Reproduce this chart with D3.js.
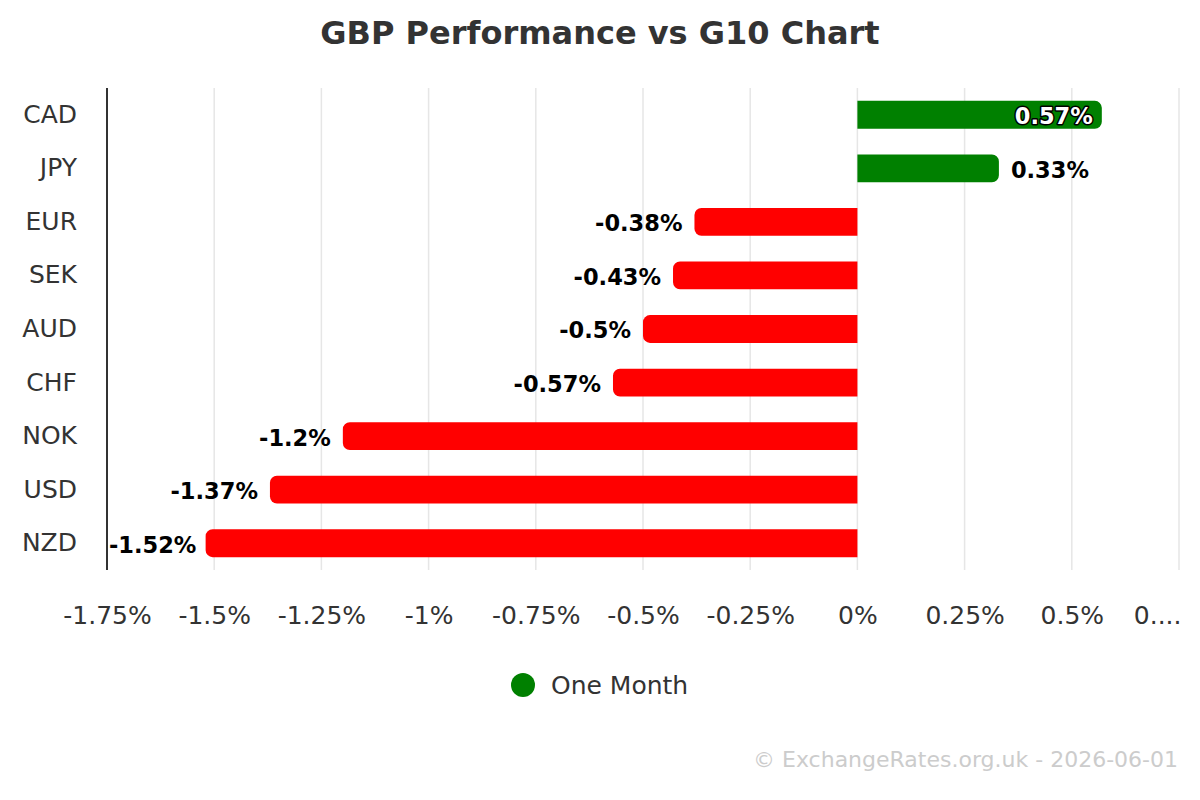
<!DOCTYPE html>
<html>
<head>
<meta charset="utf-8">
<script src="https://cdn.jsdelivr.net/npm/d3@7"></script>
<style>
  body { margin: 0; background: #fff; }
  text { font-family: "DejaVu Sans", sans-serif; }
</style>
</head>
<body>
<div id="chart"></div>
<script>
// chart data
var currencies = ["CAD", "JPY", "EUR", "SEK", "AUD", "CHF", "NOK", "USD", "NZD"];
var changes = [0.57, 0.33, -0.38, -0.43, -0.5, -0.57, -1.2, -1.37, -1.52];
var labels = ["0.57%", "0.33%", "-0.38%", "-0.43%", "-0.5%", "-0.57%", "-1.2%", "-1.37%", "-1.52%"];
var xTicks = [-1.75, -1.5, -1.25, -1, -0.75, -0.5, -0.25, 0, 0.25, 0.5, 0.75];
var xTickLabels = ["-1.75%", "-1.5%", "-1.25%", "-1%", "-0.75%", "-0.5%", "-0.25%", "0%", "0.25%", "0.5%", "0...."];

var svgWidth = 1200;
var svgHeight = 800;

var margin = { top: 88, right: 20, bottom: 230, left: 107 };
var width = svgWidth - margin.left - margin.right;
var height = svgHeight - margin.top - margin.bottom;

var svg = d3.select("#chart")
    .append("svg")
    .attr("width", svgWidth)
    .attr("height", svgHeight);

var chartGroup = svg.append("g")
    .attr("transform", `translate(${margin.left}, ${margin.top})`);

var xScale = d3.scaleLinear()
    .domain([-1.75, 0.75])
    .range([0, 1072]);

var yScale = d3.scaleBand()
    .domain(currencies)
    .range([0, height])
    .paddingInner(0.48)
    .paddingOuter(0.24);

// title
svg.append("text")
    .attr("x", svgWidth / 2)
    .attr("y", 44)
    .attr("text-anchor", "middle")
    .attr("font-size", "32px")
    .attr("font-weight", "bold")
    .attr("fill", "#333")
    .text("GBP Performance vs G10 Chart");

// grid lines
chartGroup.append("g")
    .selectAll("line")
    .data(xTicks.slice(1))
    .enter()
    .append("line")
    .attr("x1", d => xScale(d))
    .attr("x2", d => xScale(d))
    .attr("y1", 0)
    .attr("y2", height)
    .attr("stroke", "#e6e6e6")
    .attr("stroke-width", 1.5);

// x axis labels
var bottomAxis = d3.axisBottom(xScale)
    .tickValues(xTicks)
    .tickSize(0)
    .tickPadding(0)
    .tickFormat((d, i) => xTickLabels[i]);

var xAxis = chartGroup.append("g")
    .attr("transform", `translate(0, ${height + 36})`)
    .call(bottomAxis);
xAxis.select(".domain").remove();
xAxis.selectAll("text")
    .attr("font-family", "DejaVu Sans, sans-serif")
    .attr("font-size", "25px")
    .attr("fill", "#333");
// last label is clipped, keep it inside the plot edge
xAxis.selectAll("text")
    .filter(d => d === 0.75)
    .attr("text-anchor", "end")
    .attr("x", 2);

// y axis
var leftAxis = d3.axisLeft(yScale).tickSize(0).tickPadding(30);
var yAxis = chartGroup.append("g").call(leftAxis);
yAxis.select(".domain")
    .attr("stroke", "#333")
    .attr("stroke-width", 2)
    .attr("d", `M0,0V${height}`);
yAxis.selectAll("text")
    .attr("font-family", "DejaVu Sans, sans-serif")
    .attr("font-size", "25px")
    .attr("fill", "#333");

// bars with rounded outer end
var r = 7;
function barPath(v, cur) {
    var x0 = xScale(0);
    var x1 = xScale(v);
    var y0 = yScale(cur);
    var h = yScale.bandwidth();
    if (v >= 0) {
        return `M${x0},${y0}H${x1 - r}A${r},${r} 0 0 1 ${x1},${y0 + r}V${y0 + h - r}A${r},${r} 0 0 1 ${x1 - r},${y0 + h}H${x0}Z`;
    }
    return `M${x0},${y0}H${x1 + r}A${r},${r} 0 0 0 ${x1},${y0 + r}V${y0 + h - r}A${r},${r} 0 0 0 ${x1 + r},${y0 + h}H${x0}Z`;
}

chartGroup.append("g")
    .selectAll("path")
    .data(changes)
    .enter()
    .append("path")
    .attr("d", (d, i) => barPath(d, currencies[i]))
    .attr("fill", d => d >= 0 ? "#008000" : "#ff0000");

// value labels
var valueLabels = chartGroup.append("g")
    .selectAll("text")
    .data(changes)
    .enter()
    .append("text")
    .attr("y", (d, i) => yScale(currencies[i]) + yScale.bandwidth() / 2)
    .attr("dy", "0.42em")
    .attr("font-size", "22.5px")
    .attr("font-weight", "bold")
    .attr("fill", "#000")
    .text((d, i) => labels[i]);

valueLabels.each(function(d) {
    var t = d3.select(this);
    var w = this.getComputedTextLength();
    var end = xScale(d);
    if (d >= 0) {
        if (end + 12 + w > xScale(0.75)) {
            // not enough room outside, put it inside the bar
            t.attr("x", end - 9)
                .attr("text-anchor", "end")
                .attr("fill", "#fff")
                .attr("stroke", "#000")
                .attr("stroke-width", 3)
                .attr("stroke-linejoin", "round")
                .attr("paint-order", "stroke");
        } else {
            t.attr("x", end + 12).attr("text-anchor", "start");
        }
    } else {
        t.attr("x", Math.max(end - 12, w + 2)).attr("text-anchor", "end");
    }
});

// legend
var legend = svg.append("g")
    .attr("transform", "translate(523, 685)");
legend.append("circle")
    .attr("r", 12)
    .attr("fill", "#008000");
legend.append("text")
    .attr("x", 28)
    .attr("dy", "0.36em")
    .attr("font-size", "25px")
    .attr("fill", "#333")
    .text("One Month");

// credit
svg.append("text")
    .attr("x", 1178)
    .attr("y", 767)
    .attr("text-anchor", "end")
    .attr("font-size", "22px")
    .attr("fill", "#cccccc")
    .text("© ExchangeRates.org.uk - 2026-06-01");
</script>
</body>
</html>
